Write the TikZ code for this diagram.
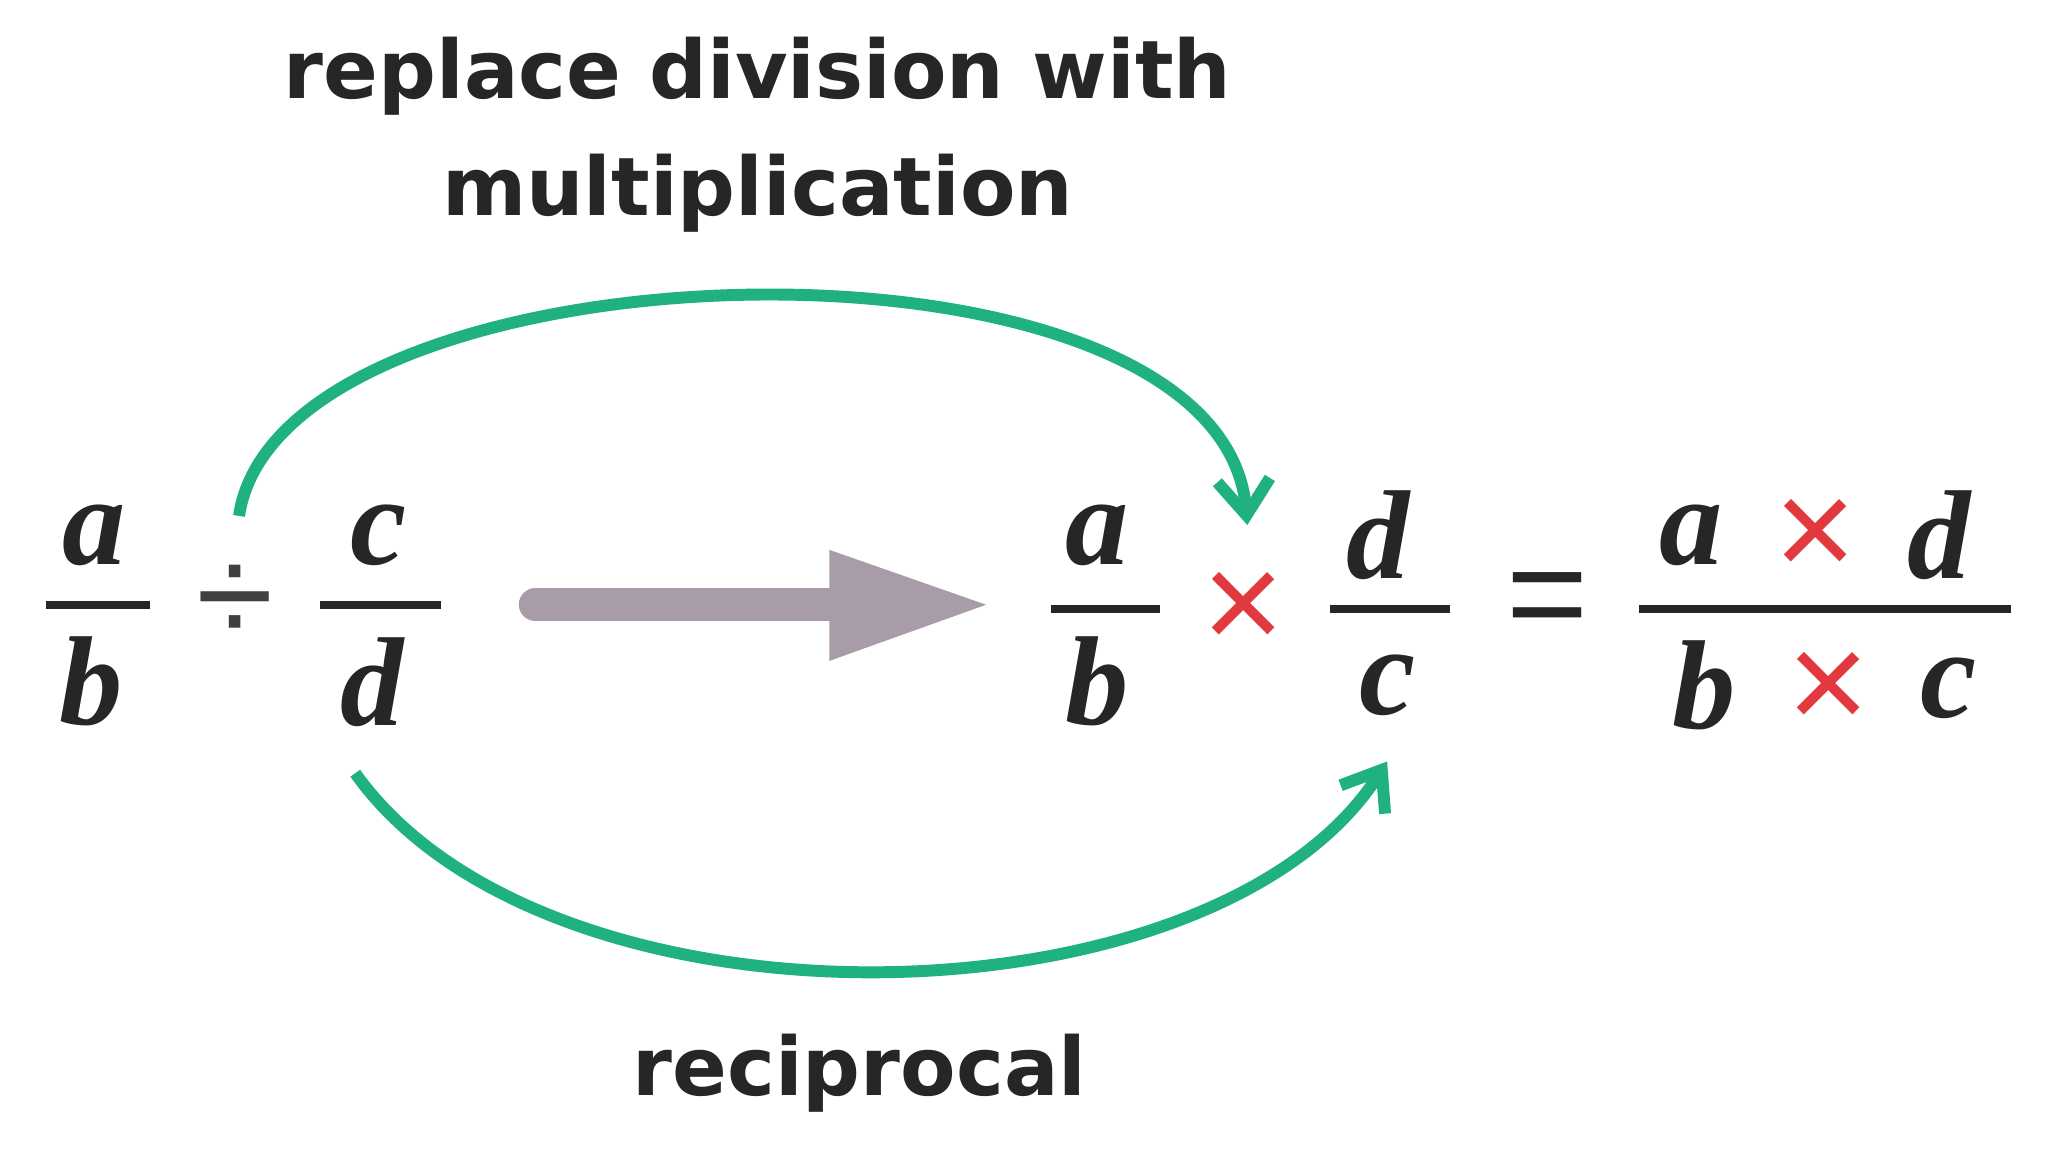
\documentclass[tikz,border=0pt]{standalone}
\usepackage{fontspec}
\setmainfont{Liberation Serif}
\newfontfamily\tf{DejaVu Sans}
\newfontfamily\of{Liberation Sans}
\usetikzlibrary{arrows.meta}
\definecolor{grn}{HTML}{1FB27E}
\definecolor{gry}{HTML}{A99CA9}
\definecolor{rd}{HTML}{E2393F}
\tikzset{
  lt/.style={font=\fontsize{36}{36}\selectfont\bfseries\itshape, text=black!85, inner sep=0pt},
  op/.style={font=\of\fontsize{40}{40}\selectfont, inner sep=0pt},
  lbl/.style={font=\tf\bfseries\fontsize{23}{28}\selectfont, text=black!85, align=center},
  bar/.style={line width=2.2pt, black!85},
  garr/.style={line width=3.4pt, grn, -{Straight Barb[length=10pt,width=15pt,line width=3.4pt]}}
}
\begin{document}
\begin{tikzpicture}[x=0.01306cm,y=-0.01306cm]
\useasboundingbox[fill=white] (0,0) rectangle (1568,882);
\node[lbl] (t1) at (580,58) {replace division with};
\node[lbl] (t2) at (580,148) {multiplication};
\node[lbl] (rc) at (658,822) {reciprocal};
% left
\node[lt] (a1) at (72,410) {a};
\node[lt] (b1) at (70,522) {b};
\draw[bar] (35,463) -- (115,463);
\node[op,text=black!75] (dv) at (180,463) {÷};
\node[lt] (c1) at (290,410) {c};
\node[lt] (d1) at (285,522) {d};
\draw[bar] (245,463) -- (338,463);
% gray arrow
\coordinate (g0) at (410,463);
\coordinate (g1) at (640,463);
\draw[gry, line width=9.5pt, line cap=round] (g0) -- (g1);
\fill[gry] (635,421) -- (755,463) -- (635,506) -- cycle;
% right
\node[lt] (a2) at (840,410) {a};
\node[lt] (b2) at (840,522) {b};
\draw[bar] (805,466) -- (888,466);
\node[op,text=rd] (x1) at (952,468) {×};
\node[lt] (d2) at (1055,410) {d};
\node[lt] (c2) at (1062,525) {c};
\draw[bar] (1018,466) -- (1110,466);
\node[op,text=black!85] (eq) at (1185,465) {=};
\node[lt] (a3) at (1295,410) {a};
\node[op,text=rd] (x2) at (1390,412) {×};
\node[lt] (d3) at (1485,410) {d};
\draw[bar] (1255,466) -- (1540,466);
\node[lt] (b3) at (1305,525) {b};
\node[op,text=rd] (x3) at (1400,529) {×};
\node[lt] (c3) at (1492,527) {c};
% green arrows
\coordinate (s1) at (183,395);
\coordinate (e1) at (955,402);
\draw[garr] (s1) .. controls (215,180) and (935,160) .. (e1);
\coordinate (s2) at (272,592);
\coordinate (e2) at (1062,583);
\draw[garr] (s2) .. controls (420,800) and (930,790) .. (e2);
\end{tikzpicture}
\end{document}
